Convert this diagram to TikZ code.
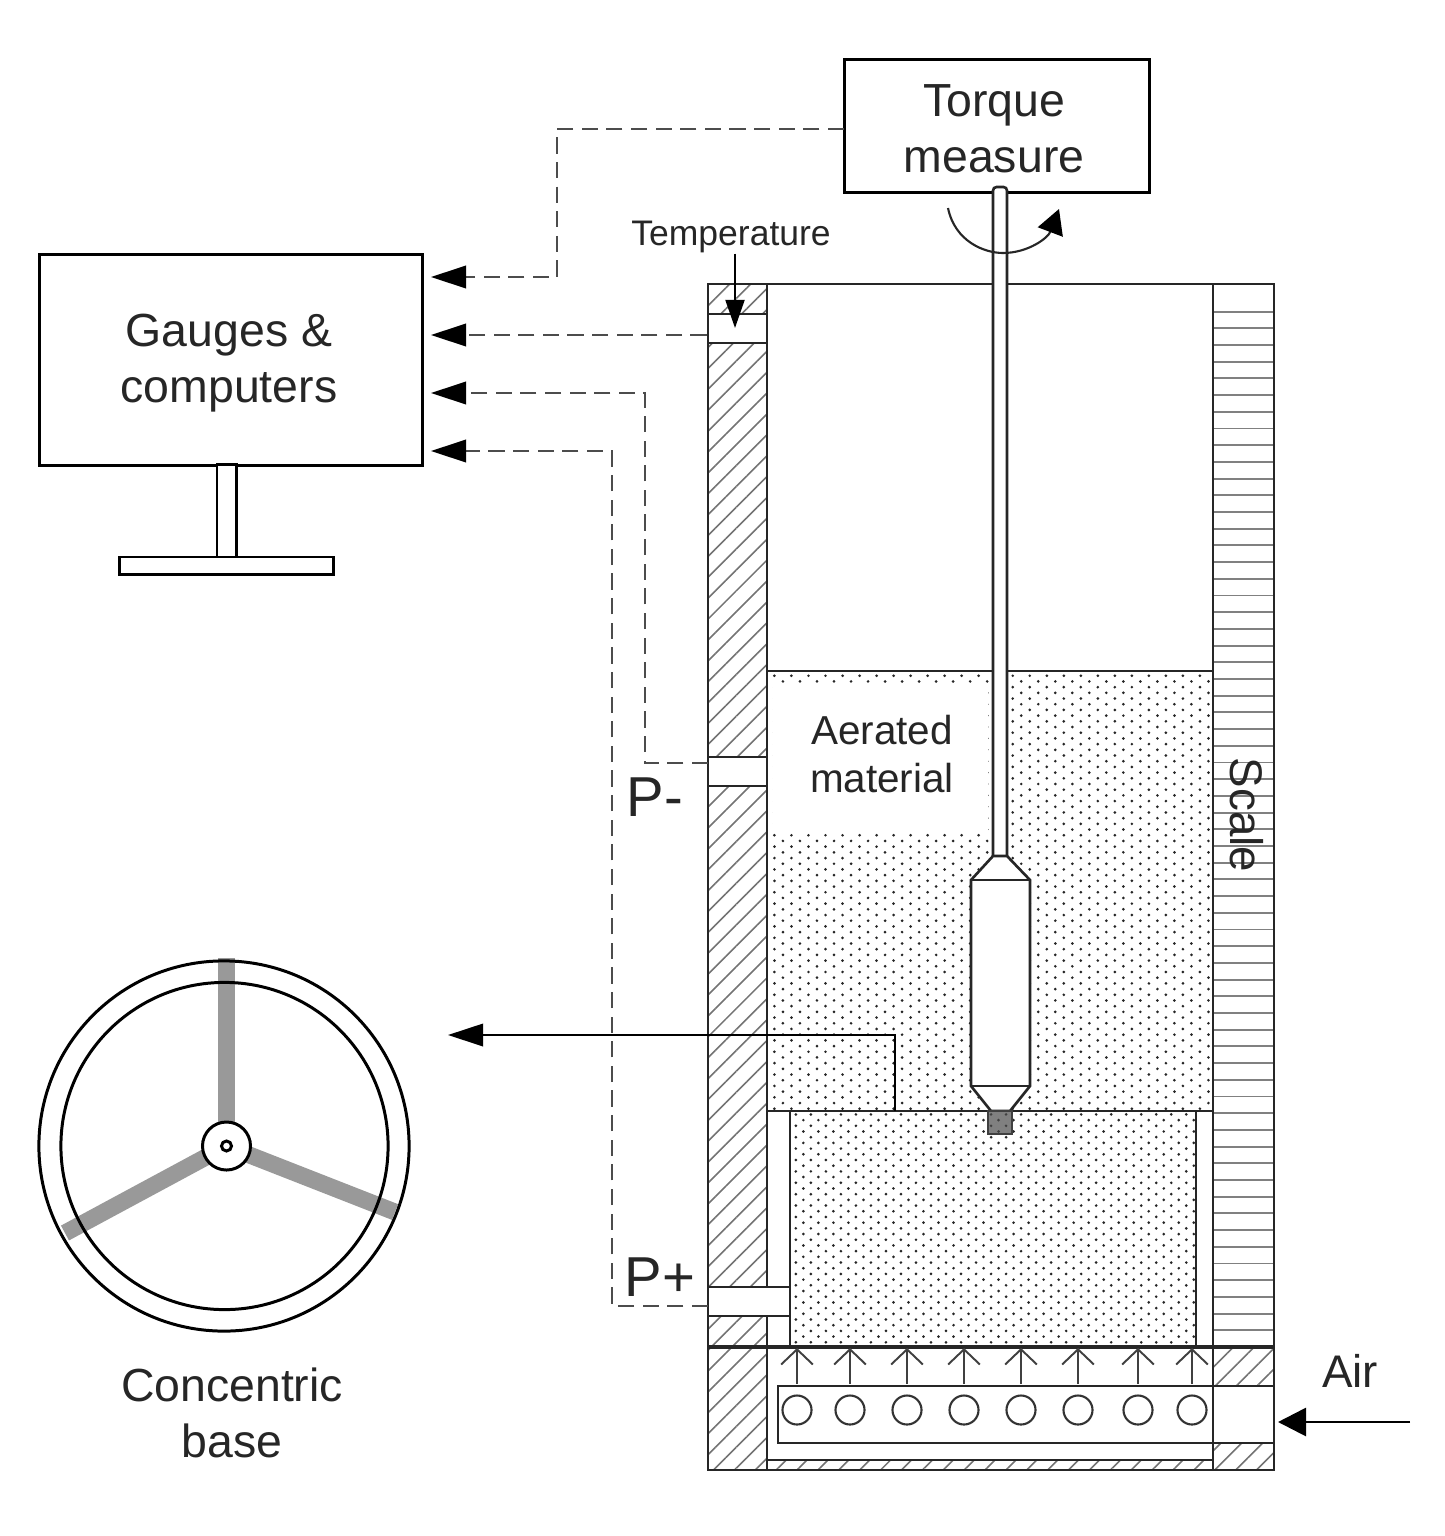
\documentclass[tikz,border=0pt]{standalone}
\usepackage{fontspec}
\setmainfont{Liberation Sans}
\usetikzlibrary{positioning,patterns,patterns.meta,arrows.meta}

\pgfdeclarepatternformonly{upperdots}{\pgfqpoint{-0.5pt}{-0.5pt}}{\pgfqpoint{4.3pt}{2.8pt}}{\pgfqpoint{4.84pt}{3.24pt}}{
	\pgfpathcircle{\pgfqpoint{0pt}{0pt}}{0.42pt}
	\pgfpathcircle{\pgfqpoint{2.42pt}{1.62pt}}{0.42pt}
	\pgfusepath{fill}
}
\pgfdeclarepatternformonly{lowerdots}{\pgfqpoint{-0.5pt}{-0.5pt}}{\pgfqpoint{3.8pt}{2.8pt}}{\pgfqpoint{4.27pt}{3.24pt}}{
	\pgfpathcircle{\pgfqpoint{0pt}{0pt}}{0.42pt}
	\pgfpathcircle{\pgfqpoint{2.135pt}{1.62pt}}{0.42pt}
	\pgfusepath{fill}
}
\tikzset{
	wall/.style={draw=black!85,line width=0.75pt},
	hatched/.style={pattern={Lines[angle=45,distance=4.2pt,line width=0.45pt]},pattern color=black!55},
	upperfill/.style={pattern=upperdots,pattern color=black!85},
	lowerfill/.style={pattern=lowerdots,pattern color=black!85},
	framebox/.style={draw=black,line width=0.85pt,inner sep=0pt,fill=white},
	slot/.style={draw=black!85,line width=0.75pt,fill=white,inner sep=0pt},
	signal/.style={draw=black!70,line width=0.7pt,dash pattern=on 4.6pt off 2.4pt,-{Triangle[length=10pt,width=6.4pt,color=black]}},
	ring/.style={circle,draw=black,line width=0.85pt,inner sep=0pt},
	spoke/.style={draw=black!40,line width=4.8pt},
	airup/.style={draw=black!75,line width=0.55pt,-{Straight Barb[length=4.3pt,width=9pt]}},
	bubble/.style={circle,draw=black!80,line width=0.6pt,minimum size=0.29cm,inner sep=0pt},
	label/.style={inner sep=0pt,align=center,text=black!85}
}

\begin{document}
\begin{tikzpicture}[x=0.01cm,y=-0.01cm]
	\useasboundingbox (0,0) rectangle (1444,1536);
	% material
	\fill[upperfill] (767,671) rectangle (1213,1111);
	\fill[white] (773,684) rectangle (988,832);
	\fill[lowerfill] (790,1111) rectangle (1196,1347);
	% walls
	\fill[hatched] (708,284) rectangle (767,1470);
	\fill[hatched] (1213,1347) rectangle (1274,1386);
	\fill[hatched] (1213,1443) rectangle (1274,1470);
	\fill[hatched] (767,1460) rectangle (1213,1470);
	\foreach \i in {1,...,62}
		\draw[black!50,line width=0.55pt] (1213,{1347-16.7*\i}) -- (1274,{1347-16.7*\i});
	\draw[wall] (708,284) rectangle (1274,1470);
	\draw[wall] (767,284) -- (767,1470);
	\draw[wall] (1213,284) -- (1213,1470);
	\draw[wall] (767,671) -- (1213,671);
	\draw[wall] (767,1111) -- (1213,1111);
	\draw[wall] (790,1111) -- (790,1347);
	\draw[wall] (1196,1111) -- (1196,1347);
	\draw[wall,line width=0.9pt] (708,1347) -- (1274,1347);
	\draw[wall] (767,1460) -- (1213,1460);
	\draw[wall] (1274,1386) -- (778,1386) -- (778,1443) -- (1274,1443);
	% ports
	\node[slot,minimum width=0.59cm,minimum height=0.29cm] (tempslot) at (737.5,328.5) {};
	\node[slot,minimum width=0.59cm,minimum height=0.29cm] (pminus) at (737.5,771.5) {};
	\node[slot,minimum width=0.82cm,minimum height=0.29cm] (pplus) at (749,1301.5) {};
	% boxes
	\node[framebox,minimum width=3.04cm,minimum height=1.32cm] (torque) at (997,126) {};
	\node[framebox,minimum width=3.82cm,minimum height=2.10cm] (gauges) at (231,360) {};
	\node[slot,draw=black,line width=0.85pt,minimum width=0.19cm,minimum height=0.92cm] (stem) at (226.5,511) {};
	\node[slot,draw=black,line width=0.85pt,minimum width=2.13cm,minimum height=0.17cm] (foot) at (226.5,565.5) {};
	% probe
	\filldraw[wall,fill=white,rounded corners=1pt] (993,856) -- (993,187) -- (1007,187) -- (1007,856);
	\filldraw[wall,fill=white] (993,856) -- (1007,856) -- (1030,880) -- (1030,1086) -- (1010,1111) -- (991,1111) -- (971,1086) -- (971,880) -- cycle;
	\draw[wall] (971,880) -- (1030,880);
	\draw[wall] (971,1086) -- (1030,1086);
	\filldraw[draw=black!75,fill=black!50,line width=0.7pt] (988,1111) rectangle (1012,1134);
	\fill[pattern=lowerdots,pattern color=black!75] (988,1111) rectangle (1012,1134);
	% base
	\foreach \x/\n in {797/1,850/2,907/3,964/4,1021/5,1078/6,1138/7,1192/8}{
		\node[bubble] (bubble\n) at (\x,1410) {};
		\coordinate [] (jet\n) at (\x,1348);
		\draw[airup] (bubble\n |- 0,1384) -- (jet\n);
	}
	% labels
	\node[label,font=\fontsize{13.2}{15.9}\selectfont] (torquetext) at (994,129) {Torque\\measure};
	\node[label,font=\fontsize{13.2}{15.9}\selectfont] (gaugestext) at (229,363) {Gauges \&\\computers};
	\node[label,font=\fontsize{10.1}{12}\selectfont] (temperature) at (731,237) {Temperature};
	\node[label,font=\fontsize{11.5}{13.7}\selectfont] (aerated) at (882,754) {Aerated\\material};
	\node[label,font=\fontsize{16}{19}\selectfont] (pminuslabel) at (655,797) {P-};
	\node[label,font=\fontsize{16}{19}\selectfont] (ppluslabel) at (660,1277) {P+};
	\node[label,font=\fontsize{13}{15}\selectfont,rotate=-90] (scale) at (1247,815) {Scale};
	\node[label,font=\fontsize{13}{15}\selectfont] (air) at (1350,1371) {Air};
	\node[label,font=\fontsize{13.2}{15.9}\selectfont] (concentric) at (232,1413) {Concentric\\base};
	% concentric base
	\coordinate [] (hub) at (226.5,1146);
	\coordinate [] (spokeA) at (226.5,958);
	\coordinate [] (spokeB) at (395,1212);
	\coordinate [] (spokeC) at (65,1233);
	\draw[spoke] (hub) -- (spokeA);
	\draw[spoke] (hub) -- (spokeB);
	\draw[spoke] (hub) -- (spokeC);
	\node[ring,minimum size=3.70cm] (outerring) at (224,1146) {};
	\node[ring,minimum size=3.27cm] (innerring) at (224.5,1146) {};
	\node[ring,fill=white,minimum size=0.48cm] (hubring) at (hub) {};
	\node[ring,minimum size=0.10cm] (hubhole) at (hub) {};
	% connectors
	\coordinate [] (inA) at (431,277);
	\coordinate [] (inB) at (431,335);
	\coordinate [] (inC) at (431,393);
	\coordinate [] (inD) at (431,451);
	\coordinate [] (torqueout) at (844,129);
	\coordinate [] (pminusout) at (708,763);
	\coordinate [] (pplusout) at (708,1306);
	\draw[signal] (torqueout) -- (557,129) -- (557,277) -- (inA);
	\draw[signal] (tempslot.west |- inB) -- (inB);
	\draw[signal] (pminusout) -- (645,763) -- (645,393) -- (inC);
	\draw[signal] (pplusout) -- (612,1306) -- (612,451) -- (inD);
	\coordinate [] (tempend) at (735,328);
	\coordinate [] (tapfoot) at (895,1111);
	\coordinate [] (tapend) at (448,1035);
	\coordinate [] (airstart) at (1410,1422);
	\coordinate [] (airend) at (1278,1422);
	\draw[black,line width=0.6pt,-{Triangle[length=8pt,width=5.4pt]}] (temperature.south -| tempend) -- (tempend);
	\draw[black,line width=0.6pt,-{Triangle[length=10pt,width=6.4pt]}] (tapfoot) -- (895,1035) -- (tapend);
	\draw[black,line width=0.8pt,-{Triangle[length=8pt,width=8pt]}] (airstart) -- (airend);
	\draw[black!85,line width=0.6pt,-{Triangle[length=7pt,width=7.5pt,color=black]}] (948,208) .. controls (955,242) and (985,253) .. (1003,253) .. controls (1028,253) and (1048,238) .. (1059,209);
\end{tikzpicture}
\end{document}
